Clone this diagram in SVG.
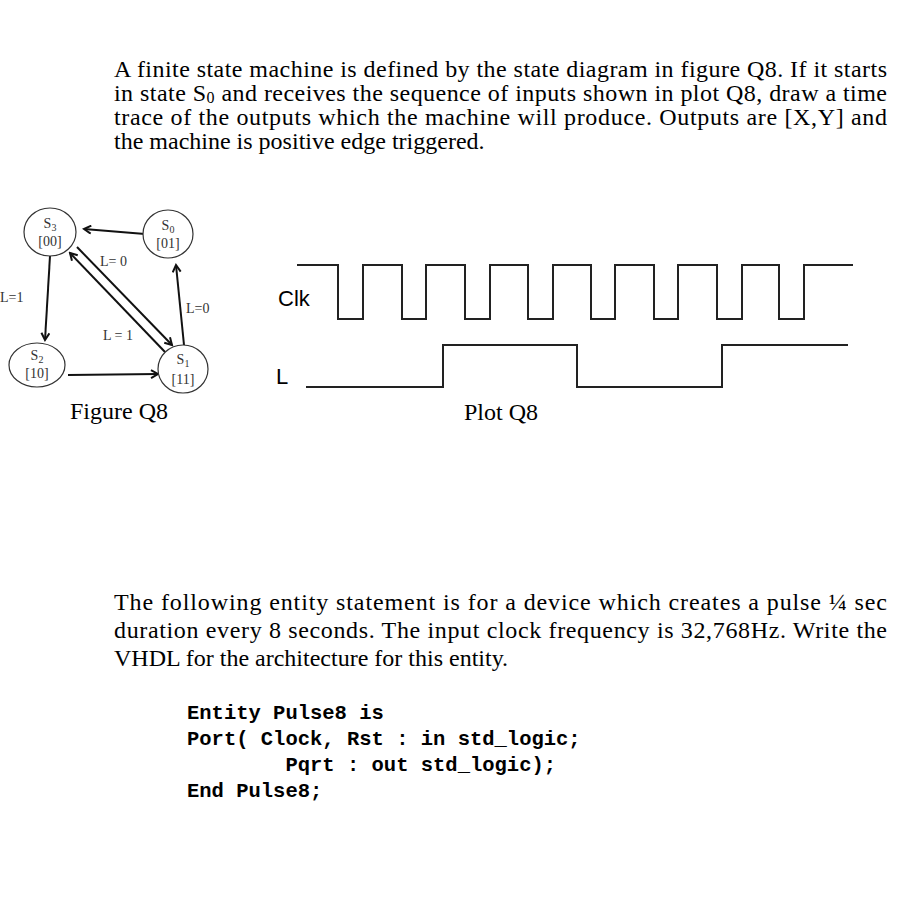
<svg xmlns="http://www.w3.org/2000/svg" width="901" height="901" viewBox="0 0 901 901">
<style>
.t{font-family:"Liberation Serif",serif;font-size:24px;fill:#000}
.s{font-family:"Liberation Serif",serif;font-size:14px;fill:#333}
.m{font-family:"Liberation Mono",monospace;font-size:20.5px;font-weight:bold;fill:#000}
.g{font-family:"Liberation Sans",sans-serif;font-size:22px;fill:#000}
ellipse{fill:#fff;stroke:#333;stroke-width:1.2}
.c line{stroke:#111;stroke-width:2;marker-end:url(#a)}
.w{fill:none;stroke:#222;stroke-width:2}
</style>
<defs><marker id="a" markerWidth="10" markerHeight="10" refX="8" refY="5" orient="auto" markerUnits="userSpaceOnUse"><path d="M1,1 L8,5 L1,9" fill="none" stroke="#111" stroke-width="2"/></marker></defs>
<rect width="901" height="901" fill="#fff"/>
<text class="t" x="114" y="77" textLength="773" lengthAdjust="spacing">A finite state machine is defined by the state diagram in figure Q8. If it starts</text>
<text class="t" x="114" y="101" textLength="773" lengthAdjust="spacing">in state S<tspan font-size="16" dy="2">0</tspan><tspan dy="-2"> and receives the sequence of inputs shown in plot Q8, draw a time</tspan></text>
<text class="t" x="114" y="125" textLength="773" lengthAdjust="spacing">trace of the outputs which the machine will produce. Outputs are [X,Y] and</text>
<text class="t" x="114" y="149">the machine is positive edge triggered.</text>
<g class="c">
<line x1="145" y1="234" x2="84" y2="229"/>
<line x1="50" y1="256" x2="45" y2="340"/>
<line x1="68" y1="375" x2="158" y2="374"/>
<line x1="184" y1="345" x2="176" y2="265"/>
<line x1="77" y1="247" x2="172" y2="345"/>
<line x1="165" y1="352" x2="70" y2="253"/>
</g>
<g id="S3"><ellipse cx="50" cy="232" rx="26" ry="24"/><text class="s" x="50" y="228" text-anchor="middle">S<tspan font-size="10" dy="3">3</tspan></text><text class="s" x="50" y="246" text-anchor="middle">[00]</text></g>
<g id="S0"><ellipse cx="168" cy="234" rx="25" ry="24"/><text class="s" x="168" y="230" text-anchor="middle">S<tspan font-size="10" dy="3">0</tspan></text><text class="s" x="168" y="248" text-anchor="middle">[01]</text></g>
<g id="S2"><ellipse cx="37" cy="365" rx="28" ry="22"/><text class="s" x="37" y="360" text-anchor="middle">S<tspan font-size="10" dy="3">2</tspan></text><text class="s" x="37" y="378" text-anchor="middle">[10]</text></g>
<g id="S1"><ellipse cx="183" cy="369" rx="25" ry="24"/><text class="s" x="183" y="364" text-anchor="middle">S<tspan font-size="10" dy="3">1</tspan></text><text class="s" x="183" y="384" text-anchor="middle">[11]</text></g>
<text class="s" x="100" y="266">L= 0</text>
<text class="s" x="0" y="302">L=1</text>
<text class="s" x="186" y="313">L=0</text>
<text class="s" x="103" y="340">L = 1</text>
<text class="t" x="70" y="419">Figure Q8</text>
<text class="g" x="278" y="306">Clk</text>
<text class="g" x="276" y="384">L</text>
<path class="w" d="M297,265 H338 V319 H363 V265 H402 V319 H426 V265 H465 V319 H490 V265 H528 V319 H553 V265 H591 V319 H615 V265 H654 V319 H678 V265 H717 V319 H742 V265 H779 V319 H804 V265 H853"/>
<path class="w" d="M306,387 H443 V345 H577 V387 H722 V345 H848"/>
<text class="t" x="464" y="420">Plot Q8</text>
<text class="t" x="114" y="610" textLength="773" lengthAdjust="spacing">The following entity statement is for a device which creates a pulse ¼ sec</text>
<text class="t" x="114" y="638" textLength="773" lengthAdjust="spacing">duration every 8 seconds. The input clock frequency is 32,768Hz. Write the</text>
<text class="t" x="114" y="666">VHDL for the architecture for this entity.</text>
<text class="m" x="187" y="719" xml:space="preserve">Entity Pulse8 is</text>
<text class="m" x="187" y="745" xml:space="preserve">Port( Clock, Rst : in std_logic;</text>
<text class="m" x="187" y="771" xml:space="preserve">        Pqrt : out std_logic);</text>
<text class="m" x="187" y="797" xml:space="preserve">End Pulse8;</text>
</svg>
